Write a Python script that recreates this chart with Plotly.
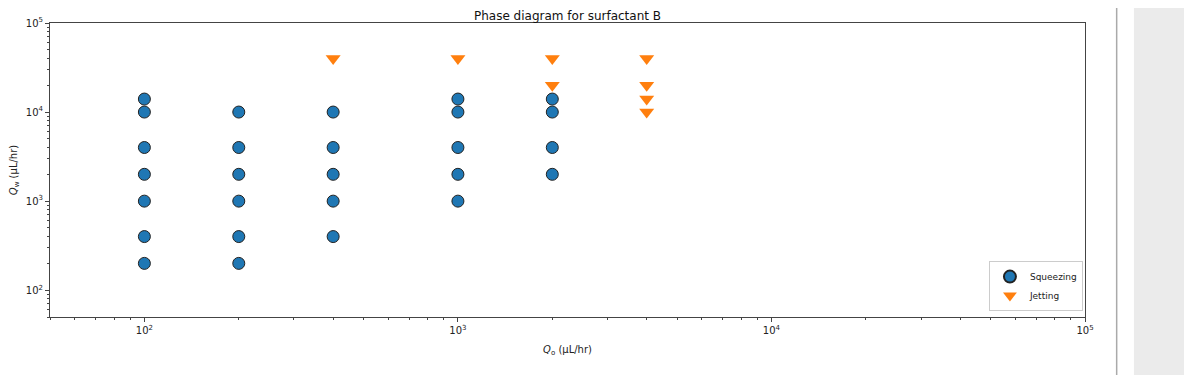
import plotly.graph_objects as go

# Squeezing data
sq_x = [100]*7 + [200]*6 + [400]*5 + [1000]*5 + [2000]*4
sq_y = [200, 400, 1000, 2000, 4000, 10000, 14000,
        200, 400, 1000, 2000, 4000, 10000,
        400, 1000, 2000, 4000, 10000,
        1000, 2000, 4000, 10000, 14000,
        2000, 4000, 10000, 14000]
# Jetting data
jt_x = [400, 1000, 2000, 2000, 4000, 4000, 4000, 4000]
jt_y = [40000, 40000, 20000, 40000, 10000, 14000, 20000, 40000]

major_vals = [1e2, 1e3, 1e4, 1e5]
major_text = ["10<sup>2</sup>", "10<sup>3</sup>", "10<sup>4</sup>", "10<sup>5</sup>"]

def minors(lo, hi):
    out = []
    d = 1
    while d <= hi:
        for m in range(2, 10):
            v = m * d
            if lo <= v <= hi:
                out.append(v)
        d *= 10
    return out

FONT = "DejaVu Sans"

fig = go.Figure()
fig.add_trace(go.Scatter(
    x=sq_x, y=sq_y, mode="markers", name="Squeezing",
    marker=dict(symbol="circle", size=12, color="#1f77b4",
                line=dict(color="#222222", width=1))))
fig.add_trace(go.Scatter(
    x=jt_x, y=jt_y, mode="markers", name="Jetting",
    marker=dict(symbol="triangle-down", size=13, color="#ff7f0e",
                line=dict(width=0))))

axis_common = dict(
    type="log", showgrid=False, zeroline=False, automargin=False,
    showline=True, linecolor="#444444", linewidth=1, mirror=True,
    ticks="outside", ticklen=4, tickcolor="#444444",
    tickmode="array", tickvals=major_vals, ticktext=major_text,
    tickfont=dict(family=FONT, size=10, color="#222222"),
)

fig.update_xaxes(**axis_common, range=[1.69897, 5],
                 minor=dict(tickmode="array", tickvals=minors(50, 1e5),
                            ticks="outside", ticklen=2, tickcolor="#444444"),
                 title=dict(text="<i>Q</i><sub>o</sub> (µL/hr)",
                            font=dict(family=FONT, size=10, color="#222222"),
                            standoff=10))
fig.update_yaxes(**axis_common, range=[1.69897, 5],
                 minor=dict(tickmode="array", tickvals=minors(50, 1e5),
                            ticks="outside", ticklen=2, tickcolor="#444444"),
                 title=dict(text="<i>Q</i><sub>w</sub> (µL/hr)",
                            font=dict(family=FONT, size=10, color="#222222"),
                            standoff=8))

fig.update_layout(
    width=1184, height=367,
    margin=dict(l=42, r=107, t=15, b=58),
    paper_bgcolor="white", plot_bgcolor="white",
    title=dict(text="Phase diagram for surfactant B",
               font=dict(family=FONT, size=12, color="#111111"),
               x=0.5, xref="paper", xanchor="center",
               y=1, yref="paper", yanchor="bottom", pad=dict(b=3)),
    legend=dict(x=0.998, y=0.02, xanchor="right", yanchor="bottom",
                bgcolor="rgba(255,255,255,0.8)", bordercolor="#cccccc",
                borderwidth=1,
                font=dict(family=FONT, size=9, color="#222222"),
                itemsizing="constant", tracegroupgap=0),
    showlegend=True,
    shapes=[
        dict(type="line", xref="paper", yref="paper",
             x0=1.0306, x1=1.0306, y0=-0.25, y1=1.1,
             line=dict(color="#aaaaaa", width=1.5), layer="above"),
        dict(type="rect", xref="paper", yref="paper",
             x0=1.0473, x1=1.11, y0=-0.25, y1=1.1,
             fillcolor="#ebebeb", line=dict(width=0), layer="above"),
    ],
)

fig.write_html("out.html")
